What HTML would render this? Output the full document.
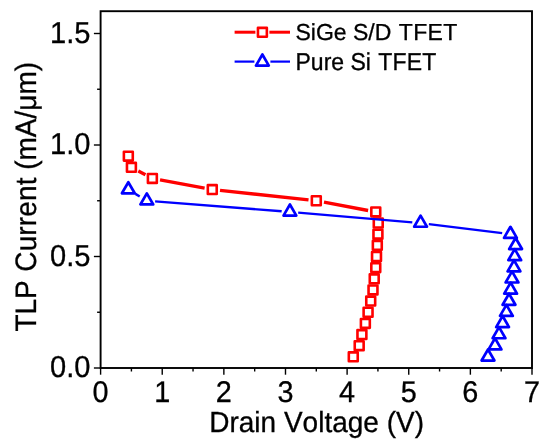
<!DOCTYPE html>
<html><head><meta charset="utf-8"><title>TLP Current vs Drain Voltage</title>
<style>
html,body{margin:0;padding:0;background:#fff;}
svg{display:block;font-family:"Liberation Sans",Arial,sans-serif;fill:#000;font-kerning:none;text-rendering:geometricPrecision;}
text{stroke:#000;stroke-width:0.3px;}
</style></head><body>
<svg width="550" height="444" viewBox="0 0 550 444">
<rect width="550" height="444" fill="#fff"/>
<rect x="100.6" y="11.2" width="431.4" height="356.8" fill="none" stroke="#000" stroke-width="1.9"/>
<g stroke="#000" stroke-width="1.4"><line x1="100.60" y1="368.0" x2="100.60" y2="374.7"/><line x1="131.41" y1="368.0" x2="131.41" y2="371.5"/><line x1="162.23" y1="368.0" x2="162.23" y2="374.7"/><line x1="193.04" y1="368.0" x2="193.04" y2="371.5"/><line x1="223.86" y1="368.0" x2="223.86" y2="374.7"/><line x1="254.67" y1="368.0" x2="254.67" y2="371.5"/><line x1="285.49" y1="368.0" x2="285.49" y2="374.7"/><line x1="316.30" y1="368.0" x2="316.30" y2="371.5"/><line x1="347.11" y1="368.0" x2="347.11" y2="374.7"/><line x1="377.93" y1="368.0" x2="377.93" y2="371.5"/><line x1="408.74" y1="368.0" x2="408.74" y2="374.7"/><line x1="439.56" y1="368.0" x2="439.56" y2="371.5"/><line x1="470.37" y1="368.0" x2="470.37" y2="374.7"/><line x1="501.19" y1="368.0" x2="501.19" y2="371.5"/><line x1="532.00" y1="368.0" x2="532.00" y2="374.7"/><line x1="100.6" y1="368.00" x2="93.89999999999999" y2="368.00"/><line x1="100.6" y1="312.25" x2="97.1" y2="312.25"/><line x1="100.6" y1="256.50" x2="93.89999999999999" y2="256.50"/><line x1="100.6" y1="200.75" x2="97.1" y2="200.75"/><line x1="100.6" y1="145.00" x2="93.89999999999999" y2="145.00"/><line x1="100.6" y1="89.25" x2="97.1" y2="89.25"/><line x1="100.6" y1="33.50" x2="93.89999999999999" y2="33.50"/></g>
<text transform="translate(100.60,401.90) scale(1,1.04)" font-size="28.8" text-anchor="middle">0</text><text transform="translate(162.23,401.90) scale(1,1.04)" font-size="28.8" text-anchor="middle">1</text><text transform="translate(223.86,401.90) scale(1,1.04)" font-size="28.8" text-anchor="middle">2</text><text transform="translate(285.49,401.90) scale(1,1.04)" font-size="28.8" text-anchor="middle">3</text><text transform="translate(347.11,401.90) scale(1,1.04)" font-size="28.8" text-anchor="middle">4</text><text transform="translate(408.74,401.90) scale(1,1.04)" font-size="28.8" text-anchor="middle">5</text><text transform="translate(470.37,401.90) scale(1,1.04)" font-size="28.8" text-anchor="middle">6</text><text transform="translate(532.00,401.90) scale(1,1.04)" font-size="28.8" text-anchor="middle">7</text><text transform="translate(90.40,377.20) scale(1,1.04)" font-size="29.1" text-anchor="end">0.0</text><text transform="translate(90.40,265.70) scale(1,1.04)" font-size="29.1" text-anchor="end">0.5</text><text transform="translate(90.40,154.20) scale(1,1.04)" font-size="29.1" text-anchor="end">1.0</text><text transform="translate(90.40,42.70) scale(1,1.04)" font-size="29.1" text-anchor="end">1.5</text>
<text transform="translate(316.60,432.10) scale(1,1.04)" font-size="28" text-anchor="middle">Drain Voltage (V)</text>
<text transform="translate(35.9,331.60) rotate(-90) scale(1,1.055)" font-size="28">TLP</text>
<text transform="translate(35.9,271.70) rotate(-90) scale(1,1.055)" font-size="28" textLength="94.2" lengthAdjust="spacing">Current</text>
<text transform="translate(35.9,169.80) rotate(-90) scale(1,1.055)" font-size="28">(mA/μm)</text>
<line x1="138.30" y1="170.96" x2="145.48" y2="174.79" stroke="#ff0000" stroke-width="3.4"/>
<line x1="160.04" y1="179.88" x2="204.60" y2="188.17" stroke="#ff0000" stroke-width="3.4"/>
<line x1="220.03" y1="190.43" x2="308.54" y2="199.92" stroke="#ff0000" stroke-width="3.4"/>
<line x1="323.97" y1="202.19" x2="368.11" y2="210.46" stroke="#ff0000" stroke-width="3.4"/>
<rect x="123.88" y="151.70" width="8.9" height="8.9" fill="none" stroke="#ff0000" stroke-width="2.6" stroke-linejoin="round"/><rect x="126.96" y="162.85" width="8.9" height="8.9" fill="none" stroke="#ff0000" stroke-width="2.6" stroke-linejoin="round"/><rect x="147.92" y="174.00" width="8.9" height="8.9" fill="none" stroke="#ff0000" stroke-width="2.6" stroke-linejoin="round"/><rect x="207.82" y="185.15" width="8.9" height="8.9" fill="none" stroke="#ff0000" stroke-width="2.6" stroke-linejoin="round"/><rect x="311.85" y="196.30" width="8.9" height="8.9" fill="none" stroke="#ff0000" stroke-width="2.6" stroke-linejoin="round"/><rect x="371.32" y="207.45" width="8.9" height="8.9" fill="none" stroke="#ff0000" stroke-width="2.6" stroke-linejoin="round"/><rect x="373.79" y="218.60" width="8.9" height="8.9" fill="none" stroke="#ff0000" stroke-width="2.6" stroke-linejoin="round"/><rect x="373.48" y="229.75" width="8.9" height="8.9" fill="none" stroke="#ff0000" stroke-width="2.6" stroke-linejoin="round"/><rect x="372.86" y="240.90" width="8.9" height="8.9" fill="none" stroke="#ff0000" stroke-width="2.6" stroke-linejoin="round"/><rect x="372.06" y="252.05" width="8.9" height="8.9" fill="none" stroke="#ff0000" stroke-width="2.6" stroke-linejoin="round"/><rect x="371.32" y="263.20" width="8.9" height="8.9" fill="none" stroke="#ff0000" stroke-width="2.6" stroke-linejoin="round"/><rect x="369.78" y="274.35" width="8.9" height="8.9" fill="none" stroke="#ff0000" stroke-width="2.6" stroke-linejoin="round"/><rect x="368.55" y="285.50" width="8.9" height="8.9" fill="none" stroke="#ff0000" stroke-width="2.6" stroke-linejoin="round"/><rect x="366.27" y="296.65" width="8.9" height="8.9" fill="none" stroke="#ff0000" stroke-width="2.6" stroke-linejoin="round"/><rect x="363.62" y="307.80" width="8.9" height="8.9" fill="none" stroke="#ff0000" stroke-width="2.6" stroke-linejoin="round"/><rect x="360.91" y="318.95" width="8.9" height="8.9" fill="none" stroke="#ff0000" stroke-width="2.6" stroke-linejoin="round"/><rect x="357.46" y="330.10" width="8.9" height="8.9" fill="none" stroke="#ff0000" stroke-width="2.6" stroke-linejoin="round"/><rect x="354.74" y="341.25" width="8.9" height="8.9" fill="none" stroke="#ff0000" stroke-width="2.6" stroke-linejoin="round"/><rect x="348.83" y="352.40" width="8.9" height="8.9" fill="none" stroke="#ff0000" stroke-width="2.6" stroke-linejoin="round"/>
<line x1="135.44" y1="193.89" x2="139.71" y2="196.46" stroke="#0000ff" stroke-width="2.4"/>
<line x1="155.10" y1="201.39" x2="281.65" y2="211.26" stroke="#0000ff" stroke-width="2.4"/>
<line x1="298.19" y1="212.61" x2="412.31" y2="222.34" stroke="#0000ff" stroke-width="2.4"/>
<line x1="428.81" y1="224.07" x2="502.19" y2="233.18" stroke="#0000ff" stroke-width="2.4"/>
<polygon points="128.33,182.20 121.92,193.30 134.74,193.30" fill="none" stroke="#0000ff" stroke-width="2.7" stroke-linejoin="round"/><polygon points="146.82,193.35 140.41,204.45 153.23,204.45" fill="none" stroke="#0000ff" stroke-width="2.7" stroke-linejoin="round"/><polygon points="289.92,204.50 283.51,215.60 296.33,215.60" fill="none" stroke="#0000ff" stroke-width="2.7" stroke-linejoin="round"/><polygon points="420.58,215.65 414.17,226.75 426.98,226.75" fill="none" stroke="#0000ff" stroke-width="2.7" stroke-linejoin="round"/><polygon points="510.43,226.80 504.02,237.90 516.84,237.90" fill="none" stroke="#0000ff" stroke-width="2.7" stroke-linejoin="round"/><polygon points="515.61,237.95 509.20,249.05 522.02,249.05" fill="none" stroke="#0000ff" stroke-width="2.7" stroke-linejoin="round"/><polygon points="514.74,249.10 508.34,260.20 521.15,260.20" fill="none" stroke="#0000ff" stroke-width="2.7" stroke-linejoin="round"/><polygon points="514.00,260.25 507.60,271.35 520.41,271.35" fill="none" stroke="#0000ff" stroke-width="2.7" stroke-linejoin="round"/><polygon points="512.03,271.40 505.62,282.50 518.44,282.50" fill="none" stroke="#0000ff" stroke-width="2.7" stroke-linejoin="round"/><polygon points="510.61,282.55 504.21,293.65 517.02,293.65" fill="none" stroke="#0000ff" stroke-width="2.7" stroke-linejoin="round"/><polygon points="509.01,293.70 502.60,304.80 515.42,304.80" fill="none" stroke="#0000ff" stroke-width="2.7" stroke-linejoin="round"/><polygon points="506.42,304.85 500.02,315.95 512.83,315.95" fill="none" stroke="#0000ff" stroke-width="2.7" stroke-linejoin="round"/><polygon points="502.60,316.00 496.19,327.10 509.01,327.10" fill="none" stroke="#0000ff" stroke-width="2.7" stroke-linejoin="round"/><polygon points="499.03,327.15 492.62,338.25 505.44,338.25" fill="none" stroke="#0000ff" stroke-width="2.7" stroke-linejoin="round"/><polygon points="495.02,338.30 488.61,349.40 501.43,349.40" fill="none" stroke="#0000ff" stroke-width="2.7" stroke-linejoin="round"/><polygon points="488.00,349.45 481.59,360.55 494.41,360.55" fill="none" stroke="#0000ff" stroke-width="2.7" stroke-linejoin="round"/>
<line x1="234.6" y1="32.2" x2="255.4" y2="32.2" stroke="#ff0000" stroke-width="3"/><line x1="269.4" y1="32.2" x2="290" y2="32.2" stroke="#ff0000" stroke-width="3"/><rect x="257.95" y="27.85" width="8.9" height="8.9" fill="none" stroke="#ff0000" stroke-width="2.6" stroke-linejoin="round"/>
<line x1="234.6" y1="61.6" x2="254.4" y2="61.6" stroke="#0000ff" stroke-width="2.2"/><line x1="270.4" y1="61.6" x2="290" y2="61.6" stroke="#0000ff" stroke-width="2.2"/><polygon points="262.40,54.50 255.99,65.60 268.81,65.60" fill="none" stroke="#0000ff" stroke-width="2.7" stroke-linejoin="round"/>
<text transform="translate(295.50,40.20) scale(1,1.005)" font-size="23" text-anchor="start">SiGe S/D</text>
<text transform="translate(398.80,40.20) scale(1,1.005)" font-size="23" text-anchor="start" textLength="58.5" lengthAdjust="spacing">TFET</text>
<text transform="translate(295.50,69.80) scale(1,1.06)" font-size="23" text-anchor="start">Pure Si</text>
<text transform="translate(378.30,69.80) scale(1,1.06)" font-size="23" text-anchor="start" textLength="58.1" lengthAdjust="spacing">TFET</text>
</svg>
</body></html>
